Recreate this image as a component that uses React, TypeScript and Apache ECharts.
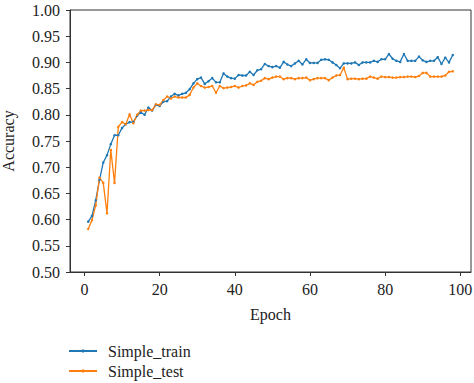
import React, { useEffect, useRef } from "react";
import * as echarts from "echarts";

const epochs: number[] = Array.from({ length: 98 }, (_, i) => i + 1);

const trainAcc: number[] = [
  0.596, 0.607, 0.637, 0.676, 0.709, 0.723, 0.744, 0.761, 0.761, 0.775,
  0.782, 0.786, 0.786, 0.798, 0.805, 0.800, 0.814, 0.808, 0.819, 0.817,
  0.825, 0.826, 0.835, 0.840, 0.837, 0.840, 0.842, 0.849, 0.860, 0.868,
  0.871, 0.859, 0.864, 0.870, 0.862, 0.862, 0.879, 0.873, 0.870, 0.869,
  0.876, 0.875, 0.875, 0.882, 0.876, 0.885, 0.887, 0.897, 0.893, 0.891,
  0.893, 0.890, 0.901, 0.896, 0.893, 0.898, 0.903, 0.896, 0.906, 0.899,
  0.899, 0.899, 0.905, 0.906, 0.905, 0.900, 0.895, 0.889, 0.898, 0.898,
  0.898, 0.900, 0.895, 0.900, 0.900, 0.900, 0.903, 0.901, 0.906, 0.906,
  0.916, 0.907, 0.903, 0.901, 0.916, 0.903, 0.903, 0.903, 0.911, 0.904,
  0.901, 0.903, 0.903, 0.910, 0.897, 0.909, 0.900, 0.914,
];

const testAcc: number[] = [
  0.582, 0.599, 0.627, 0.680, 0.670, 0.612, 0.733, 0.670, 0.777, 0.786,
  0.782, 0.801, 0.784, 0.800, 0.808, 0.808, 0.809, 0.809, 0.820, 0.819,
  0.828, 0.835, 0.831, 0.835, 0.833, 0.833, 0.833, 0.838, 0.852, 0.860,
  0.855, 0.852, 0.853, 0.855, 0.842, 0.855, 0.851, 0.852, 0.853, 0.855,
  0.852, 0.855, 0.856, 0.860, 0.857, 0.863, 0.865, 0.870, 0.868, 0.871,
  0.873, 0.873, 0.868, 0.870, 0.870, 0.868, 0.870, 0.870, 0.871, 0.866,
  0.868, 0.870, 0.870, 0.870, 0.866, 0.871, 0.875, 0.876, 0.890, 0.868,
  0.869, 0.869, 0.868, 0.869, 0.869, 0.873, 0.871, 0.869, 0.873, 0.872,
  0.872, 0.871, 0.871, 0.872, 0.872, 0.873, 0.873, 0.872, 0.874, 0.880,
  0.880, 0.873, 0.873, 0.873, 0.873, 0.875, 0.882, 0.883,
];

const xTicks: number[] = [0, 20, 40, 60, 80, 100];
const seriesNames: string[] = ["Simple_train", "Simple_test"];
const colors: string[] = ["#1f77b4", "#ff7f0e"];

const FONT = "'Liberation Serif', 'DejaVu Serif', serif";

export default function App() {
  const ref = useRef<HTMLDivElement>(null);
  useEffect(() => {
    if (!ref.current) return;
    const chart = echarts.init(ref.current, undefined, { renderer: "svg" });
    const mk = (name: string, vals: number[], color: string) => ({
      name,
      type: "line",
      data: epochs.map((e, i) => [e, vals[i]]),
      symbol: "circle",
      symbolSize: 2.5,
      showSymbol: true,
      lineStyle: { width: 1.3, color },
      itemStyle: { color },
      emphasis: { disabled: true },
    });
    const legendFor = (name: string, top: number) => ({
      orient: "horizontal",
      left: 68,
      top,
      height: 18,
      width: 200,
      padding: 0,
      itemWidth: 28,
      itemHeight: 4,
      itemGap: 4,
      data: [name],
      textStyle: {
        fontFamily: FONT,
        fontSize: 16,
        color: "#222",
        padding: [0, 0, 0, 6],
      },
    });
    chart.setOption({
      animation: false,
      backgroundColor: "#fff",
      textStyle: { fontFamily: FONT },
      grid: {
        left: 70,
        right: 3,
        top: 10,
        bottom: 111,
        outerBoundsMode: "none",
        containLabel: false,
        show: true,
        borderColor: "#333",
        borderWidth: 1,
        backgroundColor: "transparent",
      },
      legend: [legendFor(seriesNames[0], 343), legendFor(seriesNames[1], 363)],
      xAxis: {
        type: "value",
        min: -3.85,
        max: 102.85,
        name: "Epoch",
        nameLocation: "middle",
        nameGap: 34,
        nameTextStyle: { fontFamily: FONT, fontSize: 16, color: "#222" },
        axisLine: { show: true, onZero: false, lineStyle: { color: "#333", width: 1 } },
        axisTick: { show: true, customValues: xTicks, length: 4, lineStyle: { color: "#333" } },
        axisLabel: {
          customValues: xTicks,
          fontFamily: FONT,
          fontSize: 16,
          color: "#222",
          margin: 9,
        },
        splitLine: { show: false },
      },
      yAxis: {
        type: "value",
        min: 0.5,
        max: 1.0,
        interval: 0.05,
        name: "Accuracy",
        nameLocation: "middle",
        nameGap: 54,
        nameTextStyle: { fontFamily: FONT, fontSize: 16, color: "#222" },
        axisLine: { show: true, onZero: false, lineStyle: { color: "#333", width: 1 } },
        axisTick: { show: true, length: 4, lineStyle: { color: "#333" } },
        axisLabel: {
          fontFamily: FONT,
          fontSize: 16,
          color: "#222",
          margin: 10,
          formatter: (v: number) => v.toFixed(2),
        },
        splitLine: { show: false },
      },
      series: [
        mk(seriesNames[0], trainAcc, colors[0]),
        mk(seriesNames[1], testAcc, colors[1]),
      ],
    });
    return () => chart.dispose();
  }, []);
  return <div ref={ref} style={{ width: 474, height: 383, position: "absolute", left: 0, top: 0 }} />;
}
